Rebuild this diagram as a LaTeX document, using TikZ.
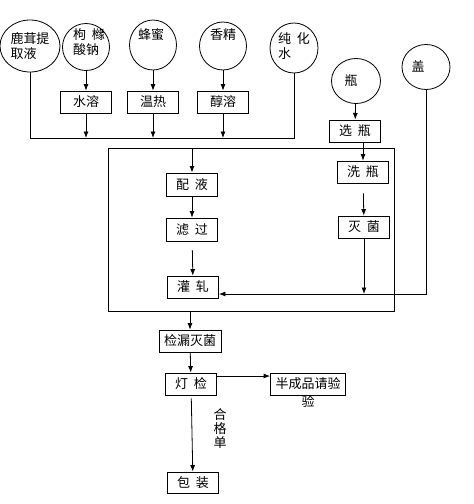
\documentclass[tikz,border=0pt]{standalone}
\usepackage{fontspec}
\setmainfont{Noto Sans CJK SC}
\usetikzlibrary{arrows.meta,calc,positioning,shapes.geometric}
\newcommand{\kg}{\hspace{6pt}}

\begin{document}
\begin{tikzpicture}[x=1pt,y=-1pt,>={Latex[length=6.5pt,width=5pt]},line width=0.8pt,
  font=\fontsize{13}{15}\selectfont,
  src/.style={ellipse,draw,minimum width=47pt,minimum height=47pt,inner sep=0pt},
  proc/.style={draw,minimum width=51pt,minimum height=22pt,inner xsep=5pt,inner ysep=0pt}]
  \useasboundingbox (0,0) rectangle (474,504);
  % raw materials
  \node[src,minimum width=60pt,minimum height=52pt,label={[align=left]center:鹿茸提\\取液}] (lr) at (30,46) {};
  \node[src,label={[align=left,xshift=3pt,yshift=5pt]center:枸\kg 橼\\酸钠}] (jy) at (86,47) {};
  \node[src,minimum height=50pt,label={[xshift=-2pt,yshift=10pt]center:蜂蜜}] (fm) at (153,45) {};
  \node[src,minimum height=48pt,label={[yshift=11pt]center:香精}] (xj) at (223,46) {};
  \node[src,minimum width=48pt,minimum height=50pt,label={[align=left,yshift=2pt]center:纯\kg 化\\水}] (ch) at (294,48) {};
  \node[src,minimum width=49pt,minimum height=45pt,label={[xshift=-5pt]center:瓶}] (ping) at (356,81) {};
  \node[src,minimum width=48pt,minimum height=45pt,label={[xshift=-8pt,yshift=1pt]center:盖}] (gai) at (426,67) {};
  \node[proc] (sr) at (86,102) {水溶};
  \node[proc] (wr) at (153,102) {温热};
  \node[proc] (cr) at (223,102) {醇溶};
  \coordinate (bus) at (0,138);
  \foreach \a/\b in {jy/sr,fm/wr,xj/cr} {
    \draw[->] (\a) -- (\b);
    \draw[->] (\b) -- (\b |- bus);
  }
  \draw (lr.south) -- (lr.south |- bus) -| (ch.south);
  % clean area
  \draw (108,148) coordinate (fa) rectangle (394,311) coordinate (fb);
  \node[proc,minimum height=23pt,line width=1pt] (pl) at (192,184.5) {配\kg 液};
  \node[proc,minimum height=23pt] (lg) at (192,229.5) {滤\kg 过};
  \node[proc] (gz) at (193,287) {灌\kg 轧};
  \node[proc,line width=1pt] (xp) at (355,131) {选\kg 瓶};
  \node[proc] (xi) at (363,172) {洗\kg 瓶};
  \node[proc] (mj) at (364,227) {灭\kg 菌};
  \draw[->] (pl |- fa) -- (pl);
  \draw[->] (pl) -- (lg);
  \draw[->,shorten <=9pt] (lg) -- (gz);
  \draw[->] (ping) -- (xp);
  \draw[->] (xp.south -| xi) -- (xi);
  \draw[->,shorten <=10pt] (xi) -- (mj);
  \coordinate (gzin) at ([yshift=-7pt]gz.east);
  \draw[->] (gai) |- (gzin);
  \draw[->] (mj) -- (mj |- gzin);
  % packing
  \node[proc] (jl) at (190,341) {检漏灭菌};
  \node[proc] (dj) at (191,384) {灯\kg 检};
  \node[proc] (bcp) at (308,384) {半成品请验};
  \node[inner sep=0pt,below=0pt of bcp] (yan) {验};
  \node[proc,minimum height=21pt] (bz) at (193,482.5) {包\kg 装};
  \node[align=center,font=\fontsize{13}{14}\selectfont] (hgd) at (220,429) {合\\格\\单};
  \draw[->] (jl |- fb) -- (jl);
  \draw[->] (jl) -- (dj);
  \draw[->,shorten <=3pt] (dj) -- (bz);
  \draw[->] ([yshift=8pt]dj.east) -- ([yshift=8pt]bcp.west);
\end{tikzpicture}
\end{document}
